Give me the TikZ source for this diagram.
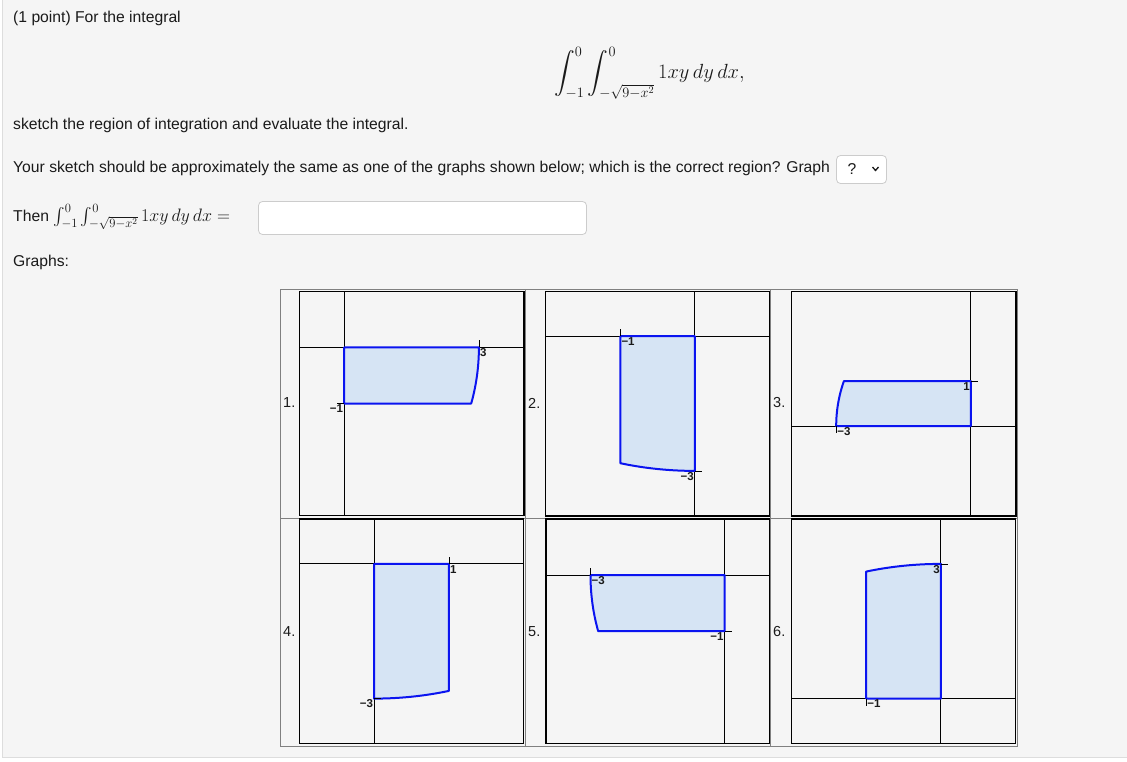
\RequirePackage{fix-cm}
\documentclass[tikz,border=0pt]{standalone}
\usepackage{exscale}
\usepackage[no-math]{fontspec}
\setmainfont{Liberation Sans}
\definecolor{txt}{HTML}{1A1A1A}
\definecolor{panel}{HTML}{F5F5F5}
\definecolor{panelline}{HTML}{DDDDDD}
\definecolor{cellgray}{HTML}{808080}
\definecolor{fieldgray}{HTML}{CCCCCC}
\definecolor{regionfill}{HTML}{D6E4F4}
\definecolor{regionblue}{HTML}{0A14F0}
\begin{document}
\begin{tikzpicture}[x=1pt,y=-1pt,
    every node/.style={inner sep=0pt, text=txt},
    body/.style={anchor=base west, font=\fontsize{15.7}{19}\selectfont},
    cellno/.style={anchor=west, font=\fontsize{14.5}{17}\selectfont},
    cellline/.style={draw=cellgray, line width=1pt},
    field/.style={draw=fieldgray, fill=white, rounded corners=4pt, line width=0.8pt},
    graphbox/.style={draw=black, line width=1.5pt},
    axis/.style={draw=black, line width=0.9pt},
    tick/.style={draw=black, line width=0.7pt},
    region/.style={fill=regionfill, draw=regionblue, line width=2pt, line join=round},
    ticklabel/.style={font=\fontsize{11.5}{13}\selectfont\bfseries, inner sep=1pt}]
  \useasboundingbox (0,0) rectangle (1127,762);
  \fill[white] (0,0) rectangle (1127,762);
  \draw[fill=panel, draw=panelline] (2.5,-5) rectangle (1135,757.5);

  % question text
  \node[body] (intro) at (13,23) {(1 point) For the integral};
  \node[anchor=base west, font=\fontsize{20.5}{24}\selectfont] (integral) at (554,79)
    {$\displaystyle\int_{-1}^{0}\int_{-\sqrt{9-x^2}}^{0} 1xy\,dy\,dx,$};
  \node[body] (sketch) at (13,130) {sketch the region of integration and evaluate the integral.};
  \node[body] (ask) at (13,173) {Your sketch should be approximately the same as one of the graphs shown below; which is the correct region? Graph};
  \draw[field] (836.5,155.5) rectangle (886.5,183.5);
  \node[font=\fontsize{15.7}{19}\selectfont] (pick) at (852,169) {?};
  \draw[line width=1.3pt, draw=txt] (872.5,167) -- (875.5,170.5) -- (878.5,167);
  \node[body] (then) at (13,222) {Then {\fontsize{18}{19}\selectfont$\int_{-1}^{0}\int_{-\sqrt{9-x^2}}^{0} 1xy\,dy\,dx =$}};
  \draw[field] (258.5,201.5) rectangle (586.5,234.5);
  \node[body] (graphs) at (13,266) {Graphs:};

  % table of graphs
  \draw[cellline] (280.5,289.5) rectangle (1017.5,746.5);
  \draw[cellline] (525.5,289.5) -- (525.5,746.5);
  \draw[cellline] (770.5,289.5) -- (770.5,746.5);
  \draw[cellline] (280.5,518.3) -- (1017.5,518.3);
  \node[cellno] (n1) at (283,403) {1.};
  \node[cellno] (n2) at (528,403) {2.};
  \node[cellno] (n3) at (773,403) {3.};
  \node[cellno] (n4) at (283,632) {4.};
  \node[cellno] (n5) at (528,632) {5.};
  \node[cellno] (n6) at (773,632) {6.};

  % graph 1
  \begin{scope}[shift={(344.2pt,-347.4pt)}, x=44.9pt, y=56.1pt]
    \draw[graphbox] (-1,-3) rectangle (4,1);
    \draw[axis] (-1,0) -- (4,0) (0,-3) -- (0,1);
    \draw[region] plot[variable=\q, domain=-1:0, samples=25] ({sqrt(9-\q*\q)},{\q}) -- (0,0) -- (0,-1) -- cycle;
    \draw[tick] (3,0) -- ++(0pt,7pt) (0,-1) -- ++(-7pt,0pt);
    \node[ticklabel, anchor=north west] (g1a) at (3,0) {3};
    \node[ticklabel, anchor=north east] (g1b) at (0,-1) {−1};
  \end{scope}

  % graph 2
  \begin{scope}[shift={(694.9pt,-336.2pt)}, x=74.6pt, y=44.9pt]
    \draw[graphbox] (-2,-4) rectangle (1,1);
    \draw[axis] (-2,0) -- (1,0) (0,-4) -- (0,1);
    \draw[region] plot[variable=\q, domain=-1:0, samples=25] ({\q},{-sqrt(9-\q*\q)}) -- (0,0) -- (-1,0) -- cycle;
    \draw[tick] (-1,0) -- ++(0pt,7pt) (0,-3) -- ++(7pt,0pt);
    \node[ticklabel, anchor=north west] (g2a) at (-1,0) {−1};
    \node[ticklabel, anchor=north east] (g2b) at (0,-3) {−3};
  \end{scope}

  % graph 3
  \begin{scope}[shift={(970.9pt,-426pt)}, x=44.9pt, y=44.9pt]
    \draw[graphbox] (-4,-2) rectangle (1,3);
    \draw[axis] (-4,0) -- (1,0) (0,-2) -- (0,3);
    \draw[region] plot[variable=\q, domain=0:1, samples=25] ({-sqrt(9-\q*\q)},{\q}) -- (0,1) -- (0,0) -- cycle;
    \draw[tick] (0,1) -- ++(7pt,0pt) (-3,0) -- ++(0pt,-7pt);
    \node[ticklabel, anchor=north east] (g3a) at (0,1) {1};
    \node[ticklabel, anchor=north west] (g3b) at (-3,0) {−3};
  \end{scope}

  % graph 4
  \begin{scope}[shift={(374.1pt,-563.9pt)}, x=74.8pt, y=44.9pt]
    \draw[graphbox] (-1,-4) rectangle (2,1);
    \draw[axis] (-1,0) -- (2,0) (0,-4) -- (0,1);
    \draw[region] plot[variable=\q, domain=0:1, samples=25] ({\q},{-sqrt(9-\q*\q)}) -- (1,0) -- (0,0) -- cycle;
    \draw[tick] (1,0) -- ++(0pt,7pt) (0,-3) -- ++(7pt,0pt);
    \node[ticklabel, anchor=north west] (g4a) at (1,0) {1};
    \node[ticklabel, anchor=north east] (g4b) at (0,-3) {−3};
  \end{scope}

  % graph 5
  \begin{scope}[shift={(724.6pt,-575.1pt)}, x=44.7pt, y=56.1pt]
    \draw[graphbox] (-4,-3) rectangle (1,1);
    \draw[axis] (-4,0) -- (1,0) (0,-3) -- (0,1);
    \draw[region] plot[variable=\q, domain=-1:0, samples=25] ({-sqrt(9-\q*\q)},{\q}) -- (0,0) -- (0,-1) -- cycle;
    \draw[tick] (-3,0) -- ++(0pt,7pt) (0,-1) -- ++(7pt,0pt);
    \node[ticklabel, anchor=north west] (g5a) at (-3,0) {−3};
    \node[ticklabel, anchor=north east] (g5b) at (0,-1) {−1};
  \end{scope}

  % graph 6
  \begin{scope}[shift={(940.9pt,-698.6pt)}, x=74.8pt, y=44.9pt]
    \draw[graphbox] (-2,-1) rectangle (1,4);
    \draw[axis] (-2,0) -- (1,0) (0,-1) -- (0,4);
    \draw[region] plot[variable=\q, domain=-1:0, samples=25] ({\q},{sqrt(9-\q*\q)}) -- (0,0) -- (-1,0) -- cycle;
    \draw[tick] (0,3) -- ++(7pt,0pt) (-1,0) -- ++(0pt,-7pt);
    \node[ticklabel, anchor=north east] (g6a) at (0,3) {3};
    \node[ticklabel, anchor=north west] (g6b) at (-1,0) {−1};
  \end{scope}
\end{tikzpicture}
\end{document}
